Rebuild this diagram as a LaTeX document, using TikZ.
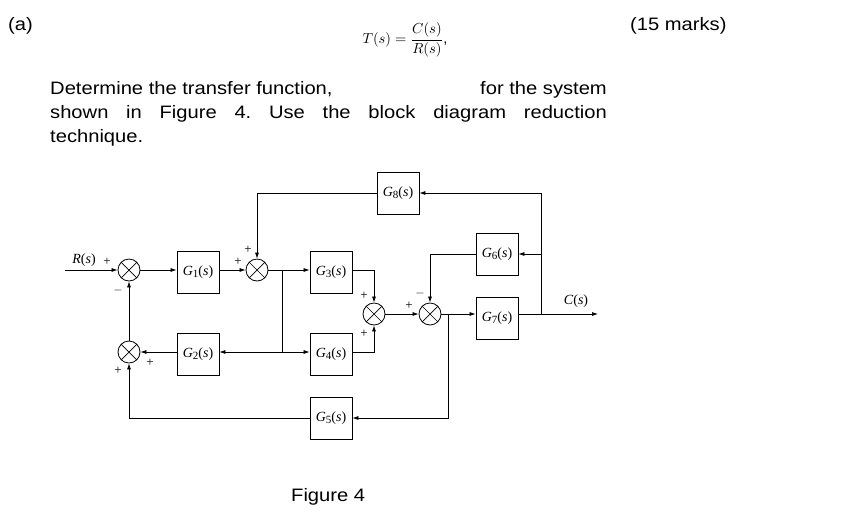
\documentclass[tikz,border=0pt]{standalone}
\usepackage{fontspec}
\usepackage{graphicx}
\setmainfont{Liberation Sans}
\newfontfamily\serifont{Liberation Serif}
\newcommand{\gl}[1]{\textit{G}\raisebox{-2pt}{\fontsize{11}{11}\selectfont #1}(\textit{s})}
\usetikzlibrary{arrows.meta}
\begin{document}
\frenchspacing
\begin{tikzpicture}[x=1pt,y=-1pt,
  blk/.style={draw,line width=0.8pt,minimum width=42pt,minimum height=42pt,inner sep=0pt,font=\serifont\fontsize{14}{14}\selectfont},
  sum/.style={draw,circle,line width=0.8pt,minimum size=22pt,inner sep=0pt,path picture={\draw[line width=0.7pt] (path picture bounding box.north west)--(path picture bounding box.south east) (path picture bounding box.north east)--(path picture bounding box.south west);}},
  sig/.style={line width=0.7pt},
  ar/.style={sig,-{Latex[length=6pt,width=4pt]}},
  pm/.style={font=\serifont\fontsize{13}{13}\selectfont,inner sep=1pt},
  txt/.style={font=\fontsize{18}{20}\selectfont,inner sep=0pt,anchor=base west}]
\useasboundingbox (0,0) rectangle (845,515);
% header text
\node[txt] (a) at (8,30) {\scalebox{1.12}[1]{(a)}};
\node[txt] (marks) at (630,30) {\scalebox{1.12}[1]{(15 marks)}};
\node[inner sep=0pt] (tf) at (405,40) {\scalebox{1.45}{$\displaystyle T(s)=\frac{C(s)}{R(s)}$,}};
\node[txt] (l1a) at (50,94) {\scalebox{1.12}[1]{Determine the transfer function,}};
\node[txt,anchor=base east] (l1b) at (607,94) {\scalebox{1.12}[1]{for the system}};
\node[txt] (l2) at (50,118) {\scalebox{1.12}[1]{\makebox[497pt][s]{shown in Figure 4. Use the block diagram reduction}}};
\node[txt] (l3) at (50,142) {\scalebox{1.12}[1]{technique.}};
\node[txt] (fig) at (291,501) {\scalebox{1.12}[1]{Figure 4}};
% blocks
\node[blk] (G1) at (198,272) {\gl{1}};
\node[blk] (G2) at (198,354) {\gl{2}};
\node[blk] (G3) at (331,272) {\gl{3}};
\node[blk] (G4) at (331,354) {\gl{4}};
\node[blk] (G5) at (331,418) {\gl{5}};
\node[blk] (G6) at (497,254) {\gl{6}};
\node[blk] (G7) at (497,318) {\gl{7}};
\node[blk] (G8) at (398,193) {\gl{8}};
\node[sum] (S1) at (129,270) {};
\node[sum] (S2) at (257,270) {};
\node[sum] (S3) at (129,352) {};
\node[sum] (S4) at (374,314) {};
\node[sum] (S5) at (430,314) {};
\coordinate (Rin) at (65,270);
\coordinate (Cout) at (598,314);
\coordinate (B1) at (282,270);
\coordinate (B2) at (282,352);
\coordinate (B3) at (448,314);
\coordinate (B4) at (541,314);
\coordinate (B5) at (541,254);
% connectors
\draw[ar] (Rin) -- (S1.west);
\draw[ar] (S1.east) -- (G1.west|-S1);
\draw[ar] (G1.east|-S2) -- (S2.west);
\draw[sig] (S2.east) -- (B1);
\draw[ar] (B1) -- (G3.west|-B1);
\draw[sig] (B1) -- (B2);
\draw[ar] (B2) -- (G4.west|-B2);
\draw[ar] (B2) -- (G2.east|-B2);
\draw[ar] (G2.west|-B2) -- (S3.east);
\draw[ar] (S3.north) -- (S1.south);
\draw[ar] (G5.west) -| (S3.south);
\draw[ar] (G3.east|-B1) -| (S4.north);
\draw[ar] (G4.east|-B2) -| (S4.south);
\draw[ar] (S4.east) -- (S5.west);
\draw[sig] (S5.east) -- (B3);
\draw[ar] (B3) -- (G7.west|-B3);
\draw[ar] (B3) |- (G5.east);
\draw[sig] (G7.east|-B4) -- (B4);
\draw[ar] (B4) -- (Cout);
\draw[sig] (B4) -- (B5);
\draw[ar] (B5) -- (G6.east);
\draw[ar] (B5) |- (G8.east);
\draw[ar] (G6.west) -| (S5.north);
\draw[ar] (G8.west) -| (S2.north);
% labels
\node[font=\serifont\fontsize{14}{14}\selectfont,inner sep=0pt] (Rl) at (84,260) {\textit{R}(\textit{s})};
\node[font=\serifont\fontsize{14}{14}\selectfont,inner sep=0pt] (Cl) at (576,301) {\textit{C}(\textit{s})};
\node[pm] (p1) at (107,262) {+};
\node[pm] (m1) at (118,290) {$-$};
\node[pm] (p2) at (238,262) {+};
\node[pm] (p3) at (248,250) {+};
\node[pm] (p4) at (150,363) {+};
\node[pm] (p5) at (118,371) {+};
\node[pm] (p6) at (364,296) {+};
\node[pm] (p7) at (364,334) {+};
\node[pm] (p8) at (409,306) {+};
\node[pm] (m2) at (420,293) {$-$};
\end{tikzpicture}
\end{document}
